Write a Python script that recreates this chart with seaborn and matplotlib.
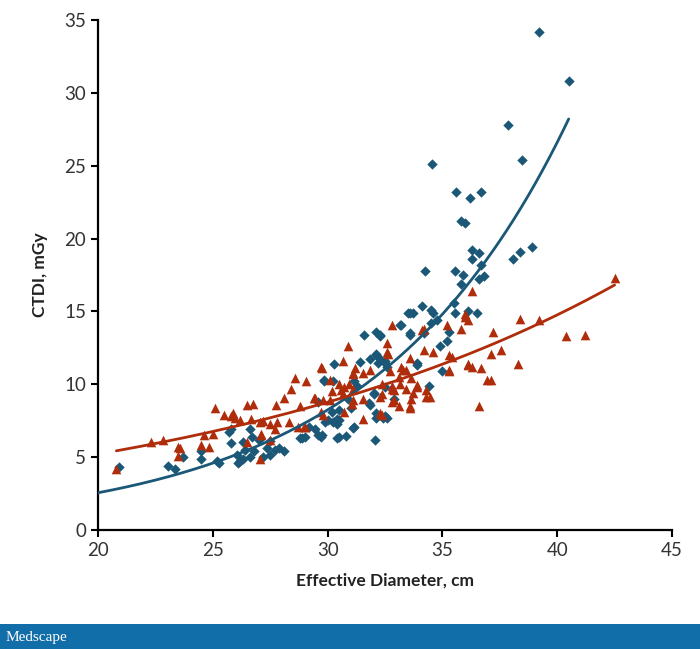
import matplotlib
matplotlib.use("Agg")
import matplotlib.pyplot as plt
import seaborn as sns
import numpy as np
import pandas as pd

# blue diamonds (effective diameter cm, CTDI mGy)
blue_x = [20.9, 23.05, 23.35, 23.7, 24.5, 24.5, 25.2, 25.25, 25.7, 25.8, 25.8, 26.05, 26.1, 26.2,
          26.3, 26.3, 26.4, 26.6, 26.6, 26.7, 26.8, 27.0, 27.2, 27.35, 27.5, 27.5, 27.7, 27.9,
          28.1, 28.8, 28.9, 29.0, 29.2, 29.45, 29.6, 29.7, 29.75, 29.9, 30.0, 30.25, 30.4, 30.4,
          30.4, 30.5, 30.5, 30.5, 30.8, 31.15, 31.1, 29.85, 30.25, 29.85, 30.3, 31.15, 31.4, 31.6,
          31.85, 31.8, 32.0, 32.0, 31.85, 32.05, 32.1, 32.1, 32.1, 32.1, 32.1, 32.2, 32.3, 32.3,
          32.3, 32.5, 32.5, 32.5, 32.5, 32.6, 32.6, 32.4, 32.9, 33.15, 33.2, 33.5, 33.6, 33.6,
          33.6, 33.7, 33.9, 33.9, 34.1, 34.2, 34.24, 34.4, 34.5, 34.5, 34.53, 34.6, 34.75, 34.9,
          35.0, 35.2, 35.3, 35.5, 35.55, 35.55, 35.6, 35.8, 35.8, 35.9, 36.0, 36.1, 36.2, 36.3,
          36.3, 36.5, 36.6, 36.6, 36.7, 36.7, 36.8, 37.85, 38.09, 38.4, 38.45, 38.9, 39.2, 40.5,
          29.6, 30.2, 30.9, 31.3, 31.0]
blue_y = [4.3, 4.4, 4.2, 5.0, 4.9, 5.4, 4.7, 4.6, 6.7, 6.0, 6.9, 5.15, 4.6, 4.7,
          4.9, 6.05, 5.5, 5.0, 6.9, 6.4, 5.4, 6.2, 5.0, 5.6, 5.15, 6.1, 5.5, 5.6,
          5.4, 6.3, 6.3, 6.4, 7.1, 6.9, 6.5, 6.4, 6.5, 7.4, 7.55, 7.4, 7.6, 7.3,
          6.3, 6.4, 7.55, 8.2, 6.45, 7.1, 7.0, 10.2, 10.2, 10.3, 11.4, 10.2, 11.5, 13.4,
          11.7, 8.7, 9.4, 9.3, 8.6, 6.2, 8.0, 7.7, 12.0, 12.1, 13.6, 11.45, 13.3, 13.4,
          11.7, 11.6, 11.45, 9.8, 7.8, 11.2, 7.7, 7.7, 9.0, 14.1, 14.1, 14.9, 14.9, 13.4,
          13.5, 14.9, 11.45, 11.3, 15.4, 13.5, 17.8, 9.9, 15.1, 14.2, 25.1, 14.9, 14.4, 12.6,
          10.9, 13.0, 13.6, 15.6, 14.9, 17.8, 23.2, 16.9, 21.2, 17.5, 21.1, 15.05, 22.8, 19.2,
          18.6, 14.9, 19.0, 17.2, 18.2, 23.2, 17.4, 27.8, 18.6, 19.1, 25.4, 19.4, 34.2, 30.8,
          8.8, 8.1, 9.0, 9.9, 8.4]

# red triangles
red_x = [20.8, 22.3, 22.85, 23.5, 23.55, 23.5, 24.5, 24.6, 24.85, 25.0, 25.1, 25.5, 25.8, 25.9,
         25.95, 26.2, 26.5, 26.5, 26.65, 26.75, 27.05, 27.05, 27.1, 27.1, 27.2, 27.5, 27.5, 27.7,
         27.75, 27.8, 28.1, 28.3, 28.4, 28.6, 28.7, 28.8, 28.97, 29.0, 29.05, 29.4, 29.45, 29.7,
         29.7, 29.75, 29.8, 29.8, 30.1, 30.1, 30.2, 30.5, 30.6, 30.65, 30.65, 30.7, 30.7, 30.9,
         30.95, 31.05, 31.1, 31.1, 31.1, 31.1, 31.2, 31.55, 31.55, 31.55, 31.85, 32.3, 32.3, 32.35,
         32.35, 32.35, 32.6, 32.6, 32.65, 32.7, 32.8, 32.8, 32.8, 32.8, 32.9, 32.9, 33.1, 33.1,
         33.15, 33.2, 33.3, 33.4, 33.4, 33.6, 33.6, 33.6, 33.65, 33.65, 33.7, 33.9, 33.9, 34.1,
         34.2, 34.2, 34.3, 34.3, 34.45, 34.6, 35.2, 35.3, 35.3, 35.3, 35.4, 35.8, 36.0, 36.0,
         36.1, 36.1, 36.1, 36.3, 36.3, 36.6, 36.7, 36.95, 37.1, 37.1, 37.2, 37.55, 38.3, 38.4,
         39.2, 40.4, 41.2, 42.5]
red_y = [4.2, 6.05, 6.2, 5.1, 5.6, 5.7, 5.8, 6.5, 5.7, 6.6, 8.35, 7.9, 7.8, 8.0,
         7.7, 7.55, 8.6, 6.05, 7.6, 8.65, 7.4, 4.9, 6.5, 6.6, 7.5, 7.3, 6.2, 6.9,
         8.6, 7.4, 9.05, 7.4, 9.7, 10.4, 7.05, 8.5, 7.1, 7.05, 10.2, 9.05, 9.05, 11.2,
         8.1, 11.1, 8.9, 7.9, 10.3, 8.9, 9.55, 10.05, 9.6, 11.6, 9.3, 9.8, 8.1, 12.6,
         10.05, 8.65, 10.8, 10.7, 9.7, 8.9, 11.1, 10.8, 9.0, 7.6, 11.0, 8.0, 9.15, 10.05,
         9.3, 7.9, 12.8, 12.2, 12.1, 10.9, 14.1, 9.85, 9.7, 8.8, 9.6, 8.9, 10.5, 8.5,
         10.05, 11.2, 11.0, 11.0, 9.7, 11.8, 8.5, 8.4, 10.4, 9.0, 9.4, 9.95, 9.8, 13.7,
         13.8, 12.35, 9.6, 9.15, 9.1, 12.2, 14.1, 12.0, 11.0, 10.9, 11.9, 13.8, 14.6, 14.8,
         14.4, 11.4, 11.3, 16.4, 11.2, 8.5, 11.1, 10.3, 12.1, 10.3, 13.6, 12.35, 11.4, 14.5,
         14.4, 13.3, 13.4, 17.3]

blue_c = "#1b5878"
red_c = "#b02d0c"

sns.set_style("ticks")
plt.rcParams['font.family'] = ['Lato', 'DejaVu Sans']

fig = plt.figure(figsize=(7, 6.49), dpi=100)
ax = fig.add_axes([0.14, 0.1834, 0.82, 0.7858])

blue = pd.DataFrame({"d": blue_x, "ctdi": blue_y})
red = pd.DataFrame({"d": red_x, "ctdi": red_y})

sns.scatterplot(data=blue, x="d", y="ctdi", marker="D", s=28, color=blue_c,
                edgecolor=blue_c, linewidth=0, ax=ax, zorder=3)
sns.scatterplot(data=red, x="d", y="ctdi", marker="^", s=48, color=red_c,
                edgecolor=red_c, linewidth=0, ax=ax, zorder=3)

# exponential trendlines fitted to each group (log-linear fit, as a spreadsheet trendline)
bb = np.polyfit(blue["d"], np.log(blue["ctdi"]), 1)
rb = np.polyfit(red["d"], np.log(red["ctdi"]), 1)
bx = np.linspace(20, max(blue_x), 200)
rx = np.linspace(min(red_x), max(red_x), 200)
sns.lineplot(x=bx, y=np.exp(np.polyval(bb, bx)), color=blue_c, lw=2, ax=ax, zorder=4)
sns.lineplot(x=rx, y=np.exp(np.polyval(rb, rx)), color=red_c, lw=2, ax=ax, zorder=4)

ax.set_xlim(20, 45)
ax.set_ylim(0, 35)
ax.set_xticks(range(20, 46, 5))
ax.set_yticks(range(0, 36, 5))
sns.despine(ax=ax)
for s in ["left", "bottom"]:
    ax.spines[s].set_linewidth(1.6)
    ax.spines[s].set_color("black")
ax.tick_params(direction="out", length=5, width=1.5, labelsize=13.5, colors="black",
               labelcolor="#333333")
ax.set_xlabel("Effective Diameter, cm", fontsize=12.5, fontweight="bold", color="#222222",
              labelpad=10)
ax.set_ylabel("CTDI, mGy", fontsize=12.5, fontweight="bold", color="#222222", labelpad=12)

# Medscape footer bar
bar = fig.add_axes([0, 0, 1, 25 / 649])
bar.set_facecolor("#126ea8")
bar.set_xticks([])
bar.set_yticks([])
for s in bar.spines.values():
    s.set_visible(False)
bar.text(0.008, 0.45, "Medscape", color="white", fontsize=11, family="Liberation Serif",
         va="center", ha="left", transform=bar.transAxes)

fig.savefig("out.png", dpi=100)
